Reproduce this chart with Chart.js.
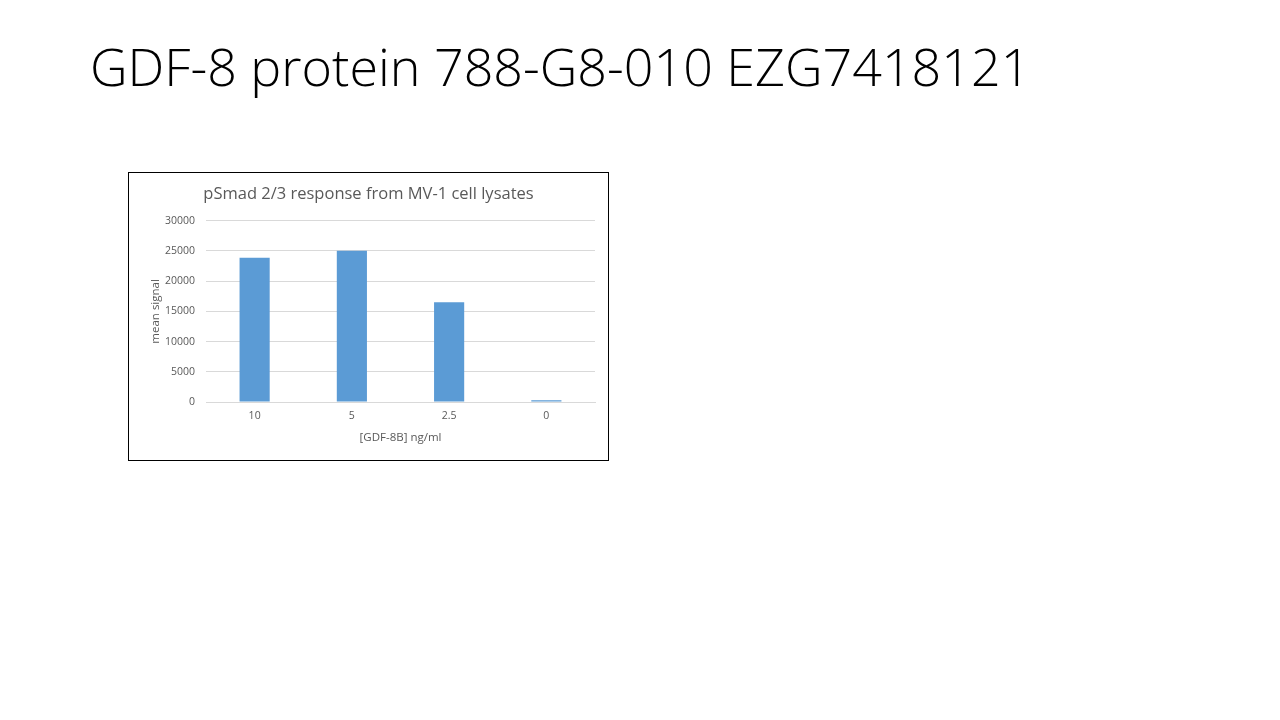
<!DOCTYPE html>
<html>
<head>
<meta charset="utf-8">
<script src="https://cdn.jsdelivr.net/npm/chart.js@4.4.1/dist/chart.umd.min.js"></script>
<style>
  html, body { margin: 0; padding: 0; background: #ffffff; }
  body { width: 1280px; height: 720px; position: relative; overflow: hidden; }
  #heading {
    position: absolute; left: 90px; top: 40px;
    font-family: "Open Sans", sans-serif; font-weight: 300; font-size: 52px;
    color: #000000; white-space: nowrap; line-height: 1;
  }
  #box {
    position: absolute; left: 128px; top: 172px; width: 479px; height: 287px;
    border: 1px solid #000000; background: #ffffff;
  }
  #box canvas { display: block; }
</style>
</head>
<body>
<div id="heading">GDF-8 protein 788-G8-010 EZG7418121</div>
<div id="box"><canvas id="c" width="479" height="287"></canvas></div>
<script>
const chartTitle = "pSmad 2/3 response from MV-1 cell lysates";
const categories = ["10", "5", "2.5", "0"];
const meanSignal = [23880, 25050, 16500, 300];
const yTitle = "mean signal";
const xTitle = "[GDF-8B] ng/ml";

const grey = "#595959";
const centerTitle = {
  id: "centerTitle",
  afterLayout(chart) {
    if (chart.titleBlock) {
      chart.titleBlock.left = 13;
      chart.titleBlock.right = chart.width - 13;
    }
  }
};
new Chart(document.getElementById("c"), {
  type: "bar",
  plugins: [centerTitle],
  data: {
    labels: categories,
    datasets: [{
      label: yTitle,
      data: meanSignal,
      backgroundColor: "#5B9BD5",
      borderWidth: 0,
      categoryPercentage: 1,
      barPercentage: 0.31
    }]
  },
  options: {
    responsive: false,
    animation: false,
    devicePixelRatio: 1,
    layout: { padding: { left: 0, right: 13, top: 0, bottom: 0 } },
    plugins: {
      legend: { display: false },
      tooltip: { enabled: false },
      title: {
        display: true,
        text: chartTitle,
        color: grey,
        font: { family: "Open Sans", size: 16.5, weight: "normal" },
        padding: { top: 11, bottom: 17 }
      }
    },
    scales: {
      x: {
        grid: { display: false, drawTicks: false },
        border: { display: true, color: "#D9D9D9", width: 1 },
        ticks: { color: grey, font: { family: "Open Sans", size: 10.5 }, padding: 8 },
        title: {
          display: true, text: xTitle, color: grey,
          font: { family: "Open Sans", size: 11.5 },
          padding: { top: 6, bottom: 15 }
        },
        afterFit: s => { s.height = 58; }
      },
      y: {
        min: 0, max: 30000,
        ticks: {
          stepSize: 5000, color: grey, font: { family: "Open Sans", size: 10.5 }, padding: 11,
          callback: v => String(v)
        },
        grid: { color: "#D9D9D9", drawTicks: false },
        border: { display: false },
        title: {
          display: true, text: yTitle, color: grey,
          font: { family: "Open Sans", size: 11.5 },
          padding: { top: 20, bottom: 0 }
        },
        afterFit: s => { s.width = 77; }
      }
    }
  }
});
</script>
</body>
</html>
